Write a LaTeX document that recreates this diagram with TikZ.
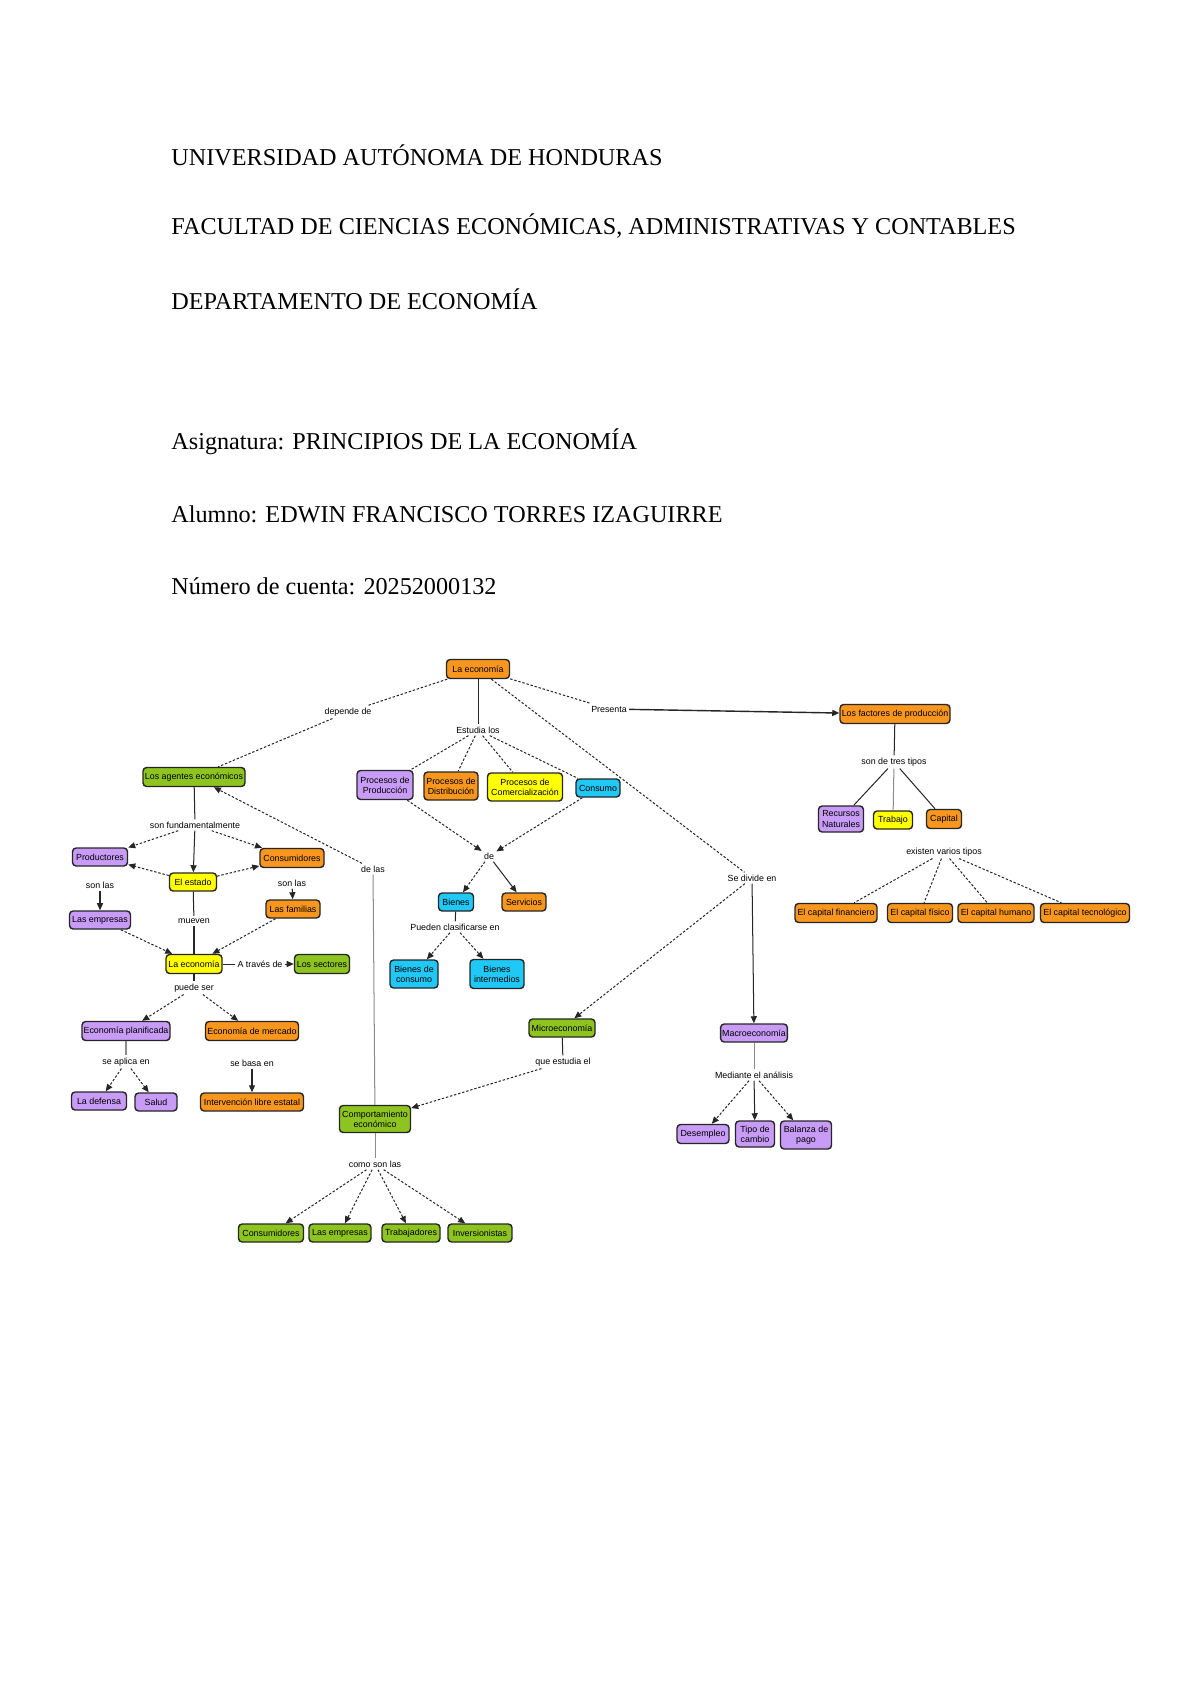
\documentclass[tikz,border=0pt]{standalone}
\usepackage{fontspec}
\setmainfont{Liberation Serif}
\newfontfamily\nodefont{Liberation Sans}
\usetikzlibrary{arrows.meta}
\definecolor{corange}{RGB}{248,150,30}
\definecolor{cgreen}{RGB}{142,196,32}
\definecolor{cpurple}{RGB}{200,156,246}
\definecolor{cyellow}{RGB}{255,255,0}
\definecolor{ccyan}{RGB}{32,200,246}
\newcommand{\nf}{\nodefont\fontsize{4.4}{5}\selectfont}
\tikzset{
  cbox/.style={draw=black!85, line width=0.7pt, rounded corners=1.8pt, font=\nf, align=center, inner sep=0.8pt},
  wh/.style 2 args={minimum width=#1*0.4961pt, minimum height=#2*0.4961pt},
  lbl/.style={font=\nf, inner sep=1pt, fill=white},
  hdr/.style={anchor=west, font=\fontsize{12}{14}\selectfont, inner sep=0pt},
  dl/.style={line width=0.5pt, dash pattern=on 1.2pt off 0.9pt, black!85},
  sl/.style={line width=0.5pt, black!85},
  gl/.style={line width=0.5pt, black!45},
  arr/.style={-{Triangle[length=3.5pt,width=3pt]}},
}
\begin{document}
\begin{tikzpicture}[x=0.4961pt,y=-0.4961pt]
\fill[white] (0,0) rectangle (1200,1696);
\useasboundingbox (0,0) rectangle (1200,1696);
% header
\node[hdr] (h1) at (171,155) {UNIVERSIDAD AUTÓNOMA DE HONDURAS};
\node[hdr] (h2) at (171,226) {FACULTAD DE CIENCIAS ECONÓMICAS, ADMINISTRATIVAS Y CONTABLES};
\node[hdr] (h3) at (171,299) {DEPARTAMENTO DE ECONOMÍA};
\node[hdr] (h4) at (171,442) {Asignatura: PRINCIPIOS DE LA ECONOMÍA};
\node[hdr] (h5) at (171,514) {Alumno: EDWIN FRANCISCO TORRES IZAGUIRRE};
\node[hdr] (h6) at (171,586) {Número de cuenta: 20252000132};
% concepts
\node[cbox, fill=corange, wh={63}{19}] (eco) at (478,669) {La economía};
\node[cbox, fill=cgreen, wh={102}{19}] (agentes) at (194,777) {Los agentes económicos};
\node[cbox, fill=cpurple, wh={56}{29}] (pprod) at (385,785) {Procesos de\\Producción};
\node[cbox, fill=corange, wh={54}{28}] (pdist) at (451,786) {Procesos de\\Distribución};
\node[cbox, fill=cyellow, wh={75}{28}] (pcom) at (525,787) {Procesos de\\Comercialización};
\node[cbox, fill=ccyan, wh={44}{18}] (cons) at (598,788) {Consumo};
\node[cbox, fill=ccyan, wh={35}{18}] (bienes) at (456,902) {Bienes};
\node[cbox, fill=corange, wh={44}{18}] (serv) at (524,902) {Servicios};
\node[cbox, fill=ccyan, wh={48}{28}] (bcons) at (414,974) {Bienes de\\consumo};
\node[cbox, fill=ccyan, wh={54}{29}] (binter) at (497,974) {Bienes\\intermedios};
\node[cbox, fill=corange, wh={110}{19}] (factores) at (895,714) {Los factores de producción};
\node[cbox, fill=cpurple, wh={45}{26}] (recnat) at (841,819) {Recursos\\Naturales};
\node[cbox, fill=cyellow, wh={39}{18}] (trab) at (893,820) {Trabajo};
\node[cbox, fill=corange, wh={35}{19}] (capital) at (944,819) {Capital};
\node[cbox, fill=corange, wh={82}{19}] (cfin) at (836,913) {El capital financiero};
\node[cbox, fill=corange, wh={65}{19}] (cfis) at (920,913) {El capital físico};
\node[cbox, fill=corange, wh={76}{19}] (chum) at (996,913) {El capital humano};
\node[cbox, fill=corange, wh={89}{19}] (ctec) at (1085,913) {El capital tecnológico};
\node[cbox, fill=cgreen, wh={66}{18}] (micro) at (562,1028) {Microeconomía};
\node[cbox, fill=cpurple, wh={65}{18}] (macro) at (754,1033) {Macroeconomía};
\node[cbox, fill=cpurple, wh={52}{19}] (desem) at (703,1134) {Desempleo};
\node[cbox, fill=cpurple, wh={39}{26}] (tcambio) at (755,1134) {Tipo de\\cambio};
\node[cbox, fill=cpurple, wh={51}{28}] (balanza) at (806,1135) {Balanza de\\pago};
\node[cbox, fill=cgreen, wh={71}{27}] (comp) at (375,1119) {Comportamiento\\económico};
\node[cbox, fill=cgreen, wh={65}{18}] (gcons) at (271,1233) {Consumidores};
\node[cbox, fill=cgreen, wh={62}{18}] (gemp) at (340,1233) {Las empresas};
\node[cbox, fill=cgreen, wh={58}{18}] (gtrab) at (411,1233) {Trabajadores};
\node[cbox, fill=cgreen, wh={64}{18}] (ginv) at (480,1233) {Inversionistas};
\node[cbox, fill=cpurple, wh={55}{18}] (prod) at (100,857) {Productores};
\node[cbox, fill=corange, wh={64}{19}] (ocons) at (292,858) {Consumidores};
\node[cbox, fill=cyellow, wh={47}{18}] (estado) at (193,882) {El estado};
\node[cbox, fill=cpurple, wh={61}{18}] (emp) at (100,920) {Las empresas};
\node[cbox, fill=corange, wh={54}{18}] (fam) at (293,909) {Las familias};
\node[cbox, fill=cyellow, wh={56}{19}] (yeco) at (194,964) {La economía};
\node[cbox, fill=cgreen, wh={55}{19}] (sect) at (322,964) {Los sectores};
\node[cbox, fill=cpurple, wh={88}{19}] (eplan) at (126,1031) {Economía planificada};
\node[cbox, fill=corange, wh={93}{19}] (emerc) at (252,1031) {Economía de mercado};
\node[cbox, fill=cpurple, wh={55}{18}] (defensa) at (99,1101) {La defensa};
\node[cbox, fill=cpurple, wh={42}{18}] (salud) at (156,1102) {Salud};
\node[cbox, fill=corange, wh={103}{18}] (interv) at (252,1102) {Intervención libre estatal};
% linking phrases
\node[lbl] (lDep) at (348,712) {depende de};
\node[lbl] (lEst) at (478,730) {Estudia los};
\node[lbl] (lDe) at (489,856) {de};
\node[lbl] (lPue) at (455,927) {Pueden clasificarse en};
\node[lbl] (lPre) at (609,709) {Presenta};
\node[lbl] (lTres) at (894,762) {son de tres tipos};
\node[lbl] (lVar) at (944,852) {existen varios tipos};
\node[lbl] (lDiv) at (752,878) {Se divide en};
\node[lbl] (lQue) at (563,1062) {que estudia el};
\node[lbl] (lMed) at (754,1075) {Mediante el análisis};
\node[lbl] (lComo) at (375,1164) {como son las};
\node[lbl] (lDeLas) at (373,869) {de las};
\node[lbl] (lFund) at (195,825) {son fundamentalmente};
\node[lbl] (lSon1) at (100,885) {son las};
\node[lbl] (lSon2) at (292,883) {son las};
\node[lbl] (lMue) at (194,921) {mueven};
\node[lbl] (lAtr) at (260,964) {A través de};
\node[lbl] (lPued) at (194,988) {puede ser};
\node[lbl] (lApl) at (126,1062) {se aplica en};
\node[lbl] (lBas) at (252,1063) {se basa en};
% connectors
\draw[dl] (eco) -- (lDep);
\draw[dl] (lDep) -- (agentes);
\draw[sl] (eco) -- (lEst);
\draw[dl] (lEst) -- (pprod);
\draw[dl] (lEst) -- (pdist);
\draw[dl] (lEst) -- (pcom);
\draw[dl] (lEst) -- (cons);
\draw[dl] (eco) -- (lPre);
\draw[sl, line width=0.7pt, arr] (lPre) -- (factores);
\draw[dl] (eco) -- (lDiv);
\draw[dl, arr] (lDiv) -- (micro);
\draw[sl, arr] (lDiv) -- (macro);
\draw[dl, arr] (pprod) -- (lDe);
\draw[dl, arr] (cons) -- (lDe);
\draw[dl, arr] (lDe) -- (bienes);
\draw[sl, arr] (lDe) -- (serv);
\draw[sl] (bienes) -- (lPue);
\draw[dl, arr] (lPue) -- (bcons);
\draw[dl, arr] (lPue) -- (binter);
\draw[sl] (factores) -- (lTres);
\draw[sl] (lTres) -- (recnat);
\draw[gl] (lTres) -- (trab);
\draw[sl] (lTres) -- (capital);
\draw[dl] (lVar) -- (cfin);
\draw[dl] (lVar) -- (cfis);
\draw[dl] (lVar) -- (chum);
\draw[dl] (lVar) -- (ctec);
\draw[sl] (micro) -- (lQue);
\draw[dl, arr] (lQue) -- (comp);
\draw[gl] (macro) -- (lMed);
\draw[dl, arr] (lMed) -- (desem);
\draw[sl, arr] (lMed) -- (tcambio);
\draw[dl, arr] (lMed) -- (balanza);
\draw[gl] (comp) -- (lComo);
\draw[dl, arr] (lComo) -- (gcons);
\draw[dl, arr] (lComo) -- (gemp);
\draw[dl, arr] (lComo) -- (gtrab);
\draw[dl, arr] (lComo) -- (ginv);
\draw[gl] (comp) -- (lDeLas);
\draw[dl, arr] (lDeLas) -- (agentes);
\draw[sl] (agentes) -- (lFund);
\draw[sl, arr] (lFund) -- (estado);
\draw[dl, arr] (lFund) -- (prod);
\draw[dl, arr] (lFund) -- (ocons);
\draw[dl, arr] (estado) -- (prod);
\draw[dl, arr] (estado) -- (ocons);
\draw[sl, arr] (lSon1) -- (emp);
\draw[sl, arr] (lSon2) -- (fam);
\draw[sl] (estado) -- (lMue);
\draw[sl] (lMue) -- (yeco);
\draw[dl, arr] (emp) -- (yeco);
\draw[dl, arr] (fam) -- (yeco);
\draw[sl] (yeco) -- (lAtr);
\draw[sl, arr] (lAtr) -- (sect);
\draw[sl] (yeco) -- (lPued);
\draw[dl, arr] (lPued) -- (eplan);
\draw[dl, arr] (lPued) -- (emerc);
\draw[gl] (eplan) -- (lApl);
\draw[dl, arr] (lApl) -- (defensa);
\draw[dl, arr] (lApl) -- (salud);
\draw[sl, arr] (lBas) -- (interv);
\end{tikzpicture}
\end{document}
